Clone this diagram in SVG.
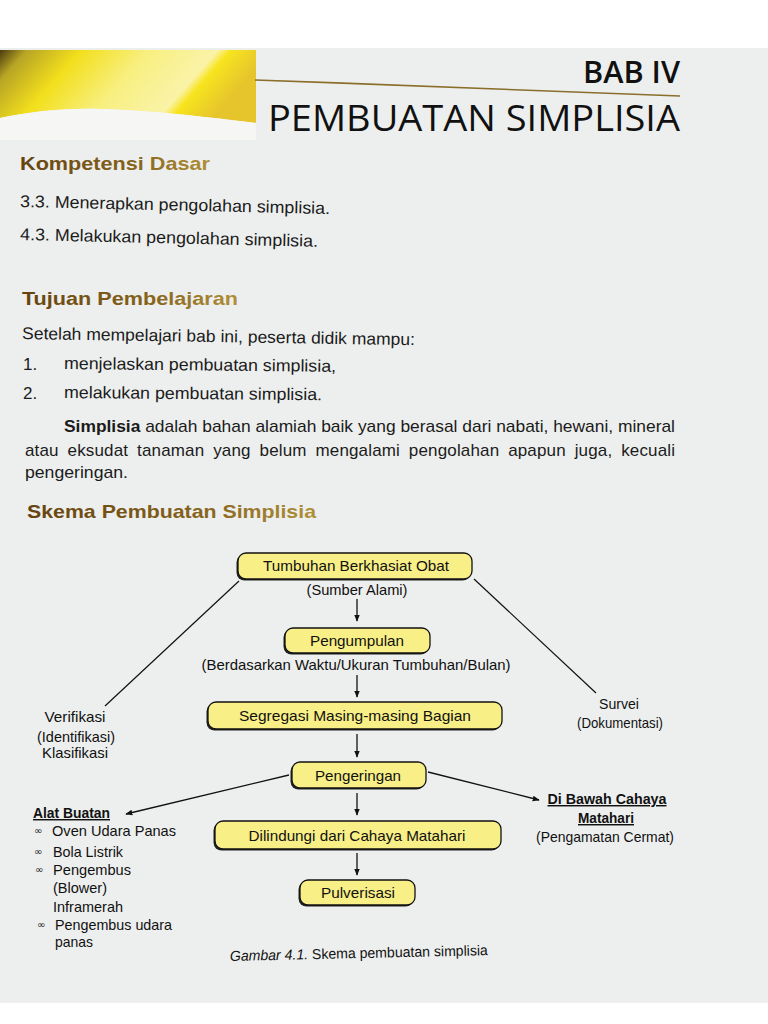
<svg xmlns="http://www.w3.org/2000/svg" width="768" height="1024" viewBox="0 0 768 1024">
<defs>
<linearGradient id="yel" x1="0" y1="0" x2="1" y2="0.25">
<stop offset="0" stop-color="#4a3a10"/>
<stop offset="0.1" stop-color="#b8a525"/>
<stop offset="0.3" stop-color="#f2df1c"/>
<stop offset="0.55" stop-color="#f8ef80"/>
<stop offset="0.8" stop-color="#faf3a8"/>
<stop offset="0.85" stop-color="#f7e41e"/>
<stop offset="1" stop-color="#e6c52c"/>
</linearGradient>
<linearGradient id="head" x1="0" y1="0" x2="1" y2="0">
<stop offset="0" stop-color="#654310"/>
<stop offset="0.6" stop-color="#86641e"/>
<stop offset="1" stop-color="#b0903a"/>
</linearGradient>
<marker id="ah" viewBox="0 0 10 10" refX="9" refY="5" markerWidth="7" markerHeight="7" orient="auto" markerUnits="userSpaceOnUse">
<path d="M0,1 L10,5 L0,9 z" fill="#111"/>
</marker>
<style>
.body{font-family:"Liberation Sans",Arial,sans-serif;font-size:17px;fill:#1b1b1b}
.hd{font-family:"Liberation Sans",Arial,sans-serif;font-size:19px;font-weight:bold;fill:url(#head)}
.dg{font-family:"Liberation Sans",Arial,sans-serif;font-size:15px;fill:#111}
.dgs{font-family:"Liberation Sans",Arial,sans-serif;font-size:14.5px;fill:#111}
.ul{font-weight:bold;text-decoration:underline}
.box{fill:#f8ef86;stroke:#111;stroke-width:1.3}
.sh{fill:#222}
.ln{stroke:#111;stroke-width:1.2;fill:none}
.ar{stroke:#111;stroke-width:1.3;fill:none;marker-end:url(#ah)}
.bul{font-family:"DejaVu Sans",sans-serif;font-size:10px;fill:#111}
</style>
</defs>
<rect x="0" y="0" width="768" height="1024" fill="#ffffff"/>
<rect x="0" y="48" width="768" height="955" fill="#edefee"/>
<g id="banner">
<path d="M0,50 L256,50 L256,123 C215,118 150,110 100,109 C60,108 30,112 0,118 Z" fill="url(#yel)"/>
<path d="M0,118 C30,112 60,108 100,109 C150,110 215,118 256,123 L256,140 L0,140 Z" fill="#f6f7f5"/>
<path d="M255,80 C400,85 550,91 680,96" stroke="#8a6e2a" stroke-width="1.6" fill="none"/>
<text x="680" y="83" text-anchor="end" font-family="'Open Sans',sans-serif" font-size="30" font-weight="600" fill="#111" textLength="97" lengthAdjust="spacingAndGlyphs">BAB IV</text>
<text x="268" y="131" font-family="'Open Sans',sans-serif" font-size="36" fill="#111" textLength="412" lengthAdjust="spacingAndGlyphs">PEMBUATAN SIMPLISIA</text>
</g>
<g id="intro">
<text class="hd" x="20" y="170" textLength="190" lengthAdjust="spacingAndGlyphs">Kompetensi Dasar</text>
<text class="body" x="20" y="207" textLength="310" lengthAdjust="spacingAndGlyphs" transform="rotate(1.3 20 207)">3.3. Menerapkan pengolahan simplisia.</text>
<text class="body" x="20" y="240" textLength="298" lengthAdjust="spacingAndGlyphs" transform="rotate(1.3 20 240)">4.3. Melakukan pengolahan simplisia.</text>
<text class="hd" x="22" y="305" textLength="216" lengthAdjust="spacingAndGlyphs">Tujuan Pembelajaran</text>
<text class="body" x="22" y="339" textLength="393" lengthAdjust="spacingAndGlyphs" transform="rotate(0.9 22 339)">Setelah mempelajari bab ini, peserta didik mampu:</text>
<text class="body" x="23" y="370">1.</text>
<text class="body" x="64" y="369" textLength="272" lengthAdjust="spacingAndGlyphs" transform="rotate(0.6 64 369)">menjelaskan pembuatan simplisia,</text>
<text class="body" x="23" y="399">2.</text>
<text class="body" x="64" y="398" textLength="258" lengthAdjust="spacingAndGlyphs" transform="rotate(0.5 64 398)">melakukan pembuatan simplisia.</text>
<text class="body" x="64" y="432" textLength="611" lengthAdjust="spacingAndGlyphs"><tspan font-weight="bold">Simplisia</tspan> adalah bahan alamiah baik yang berasal dari nabati, hewani, mineral</text>
<text class="body" x="25" y="456" textLength="650" lengthAdjust="spacing" word-spacing="4">atau eksudat tanaman yang belum mengalami pengolahan apapun juga, kecuali</text>
<text class="body" x="25" y="478" textLength="103" lengthAdjust="spacingAndGlyphs">pengeringan.</text>
<text class="hd" x="27" y="518" textLength="289" lengthAdjust="spacingAndGlyphs">Skema Pembuatan Simplisia</text>
</g>
<g id="connectors">
<line class="ln" x1="239" y1="581" x2="105" y2="706"/>
<line class="ln" x1="474" y1="579" x2="596" y2="693"/>
<line class="ar" x1="357" y1="599" x2="357" y2="621"/>
<line class="ar" x1="357" y1="675" x2="357" y2="697"/>
<line class="ar" x1="357" y1="734" x2="357" y2="757"/>
<line class="ar" x1="357" y1="793" x2="357" y2="815"/>
<line class="ar" x1="357" y1="853" x2="357" y2="875"/>
<line class="ar" x1="289" y1="775" x2="126" y2="814"/>
<line class="ar" x1="428" y1="772" x2="539" y2="800"/>
</g>
<g id="n1">
<rect class="sh" x="236.5" y="554.5" width="234" height="26" rx="8"/>
<rect class="box" x="238" y="553" width="234" height="26" rx="8"/>
<text class="dg" x="356" y="571" text-anchor="middle" textLength="186" lengthAdjust="spacingAndGlyphs">Tumbuhan Berkhasiat Obat</text>
</g>
<text class="dgs" x="357" y="595" text-anchor="middle" textLength="101" lengthAdjust="spacingAndGlyphs">(Sumber Alami)</text>
<g id="n2">
<rect class="sh" x="283.5" y="629.5" width="145" height="25" rx="8"/>
<rect class="box" x="285" y="628" width="145" height="25" rx="8"/>
<text class="dg" x="357" y="646" text-anchor="middle" textLength="94" lengthAdjust="spacingAndGlyphs">Pengumpulan</text>
</g>
<text class="dgs" x="356" y="670" text-anchor="middle" textLength="309" lengthAdjust="spacingAndGlyphs">(Berdasarkan Waktu/Ukuran Tumbuhan/Bulan)</text>
<g id="n3">
<rect class="sh" x="206.5" y="703.5" width="294" height="27" rx="8"/>
<rect class="box" x="208" y="702" width="294" height="27" rx="8"/>
<text class="dg" x="355" y="721" text-anchor="middle" textLength="232" lengthAdjust="spacingAndGlyphs">Segregasi Masing-masing Bagian</text>
</g>
<g id="n4">
<rect class="sh" x="290.5" y="763.5" width="134" height="26" rx="8"/>
<rect class="box" x="292" y="762" width="134" height="26" rx="8"/>
<text class="dg" x="358" y="781" text-anchor="middle" textLength="86" lengthAdjust="spacingAndGlyphs">Pengeringan</text>
</g>
<g id="n5">
<rect class="sh" x="213.5" y="822.5" width="286" height="28" rx="8"/>
<rect class="box" x="215" y="821" width="286" height="28" rx="8"/>
<text class="dg" x="357" y="841" text-anchor="middle" textLength="217" lengthAdjust="spacingAndGlyphs">Dilindungi dari Cahaya Matahari</text>
</g>
<g id="n6">
<rect class="sh" x="298.5" y="881.5" width="115" height="25" rx="8"/>
<rect class="box" x="300" y="880" width="115" height="25" rx="8"/>
<text class="dg" x="358" y="898" text-anchor="middle" textLength="74" lengthAdjust="spacingAndGlyphs">Pulverisasi</text>
</g>
<g id="verifikasi">
<text class="dgs" x="75" y="722" text-anchor="middle" textLength="61" lengthAdjust="spacingAndGlyphs">Verifikasi</text>
<text class="dgs" x="76" y="742" text-anchor="middle" textLength="78" lengthAdjust="spacingAndGlyphs">(Identifikasi)</text>
<text class="dgs" x="75" y="758" text-anchor="middle" textLength="66" lengthAdjust="spacingAndGlyphs">Klasifikasi</text>
</g>
<g id="survei">
<text class="dgs" x="619" y="709" text-anchor="middle" textLength="40" lengthAdjust="spacingAndGlyphs">Survei</text>
<text class="dgs" x="620" y="728" text-anchor="middle" textLength="86" lengthAdjust="spacingAndGlyphs">(Dokumentasi)</text>
</g>
<g id="alat-buatan">
<text class="dgs ul" x="33" y="818" textLength="77" lengthAdjust="spacingAndGlyphs">Alat Buatan</text>
<text class="bul" x="34" y="834">∞</text>
<text class="dgs" x="52" y="836" textLength="124" lengthAdjust="spacingAndGlyphs">Oven Udara Panas</text>
<text class="bul" x="34" y="855">∞</text>
<text class="dgs" x="53" y="857" textLength="70" lengthAdjust="spacingAndGlyphs">Bola Listrik</text>
<text class="bul" x="35" y="873">∞</text>
<text class="dgs" x="53" y="875" textLength="78" lengthAdjust="spacingAndGlyphs">Pengembus</text>
<text class="dgs" x="53" y="893" textLength="54" lengthAdjust="spacingAndGlyphs">(Blower)</text>
<text class="dgs" x="53" y="912" textLength="70" lengthAdjust="spacingAndGlyphs">Inframerah</text>
<text class="bul" x="37" y="928">∞</text>
<text class="dgs" x="55" y="930" textLength="117" lengthAdjust="spacingAndGlyphs">Pengembus udara</text>
<text class="dgs" x="55" y="947" textLength="38" lengthAdjust="spacingAndGlyphs">panas</text>
</g>
<g id="cahaya">
<text class="dgs ul" x="607" y="804" text-anchor="middle" textLength="119" lengthAdjust="spacingAndGlyphs">Di Bawah Cahaya</text>
<text class="dgs ul" x="606" y="823" text-anchor="middle" textLength="56" lengthAdjust="spacingAndGlyphs">Matahari</text>
<text class="dgs" x="605" y="842" text-anchor="middle" textLength="138" lengthAdjust="spacingAndGlyphs">(Pengamatan Cermat)</text>
</g>
<text class="dgs" x="230" y="961" textLength="258" lengthAdjust="spacingAndGlyphs" transform="rotate(-1.3 230 961)"><tspan font-style="italic">Gambar 4.1.</tspan> Skema pembuatan simplisia</text>
</svg>
